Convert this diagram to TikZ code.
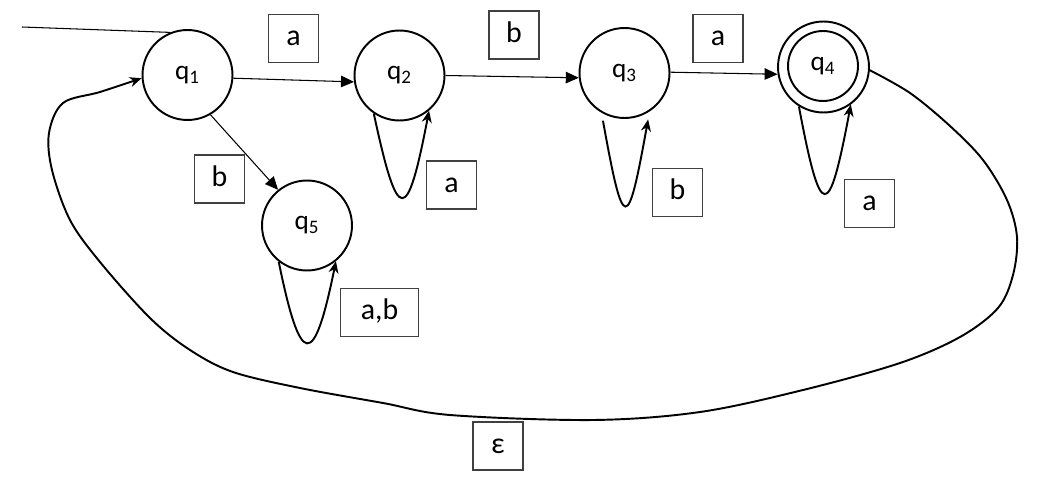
\documentclass[tikz,border=0pt]{standalone}
\usepackage{fontspec}
\setmainfont{Carlito}
\usetikzlibrary{arrows.meta}

\begin{document}
\begin{tikzpicture}[x=0.02cm, y=-0.02cm, >=Stealth,
	state/.style={circle, draw, line width=1.1pt, inner sep=0pt, minimum size=#1, font=\fontsize{15.5}{17}\selectfont},
	state/.default=1.8cm,
	symbol/.style={draw=black!75, line width=0.7pt, inner sep=0pt, minimum width=#1, minimum height=0.96cm, text height=0.85em, text depth=0.05em, font=\fontsize{17}{19}\selectfont},
	symbol/.default=1.0cm,
	edge/.style={-{Triangle[length=0.26cm, width=0.23cm]}, line width=0.6pt},
	selfloop/.style={-{Stealth[length=0.24cm, width=0.2cm]}, line width=1.1pt}
	]
	
	\useasboundingbox (0,0) rectangle (1055,483);
	
	% 1. States
	\node[state] (q1) at (187.5,75) {q\textsubscript{1}};
	\node[state] (q2) at (399.5,75.5) {q\textsubscript{2}};
	\node[state] (q3) at (624.5,73) {q\textsubscript{3}};
	\node[state=1.82cm] (q4) at (823.5,67) {};
	\node[state=1.4cm] (q4in) at (823,66) {q\textsubscript{4}};
	\node[state] (q5) at (307,225.5) {q\textsubscript{5}};
	
	% 2. Start line and transitions
	\coordinate (init) at (22,27);
	\draw[line width=0.6pt] (init) -- (q1.112);
	\draw[edge] (q1.-4) -- (q2.-172);
	\draw[edge] (q2.0) -- (q3.-174);
	\draw[edge] (q3.1) -- (q4.-171);
	\draw[edge] (q1.-60) -- (q5.129);
	
	% 3. Self loops
	\draw[selfloop] (q2.-124) .. controls +(24,112) and +(-22,115) .. (q2.-50);
	\draw[selfloop, shorten <=0.16cm, shorten >=0.16cm] (q3.-120) .. controls +(22,122) and +(-22,122) .. (q3.-57);
	\draw[selfloop] (q4.-122) .. controls +(22,117) and +(-22,117) .. (q4.-54);
	\draw[selfloop] (q5.-128) .. controls +(22,108) and +(-22,108) .. (q5.-51);
	
	% 4. Epsilon return from q4 to q1
	\draw[-{Stealth[length=0.24cm, width=0.2cm]}, line width=1.1pt] plot[smooth, tension=0.55] coordinates {
		(q4.-4) (910,93) (950,126) (983,160) (1007,200) (1017,237) (1013,275)
		(998,308) (960,337) (900,363) (803,390) (700,412) (593,420) (450,415)
		(383,403) (300,388) (233,372) (190,350) (150,318) (100,262) (70,220)
		(52,170) (49,133) (63,103) (100,92) (q1.184)
	};
	
	% 5. Symbol boxes
	\node[symbol] (la12) at (293.5,38.5) {a};
	\node[symbol] (lb23) at (514,35) {b};
	\node[symbol] (la34) at (718,38.5) {a};
	\node[symbol] (lb15) at (219.5,179) {b};
	\node[symbol] (la22) at (451.5,185) {a};
	\node[symbol] (lb33) at (677.5,192.5) {b};
	\node[symbol] (la44) at (869.5,203.5) {a};
	\node[symbol=1.56cm] (lab55) at (379.5,312.5) {a,b};
	\node[symbol] (leps) at (498,446) {ε};
	
\end{tikzpicture}
\end{document}
